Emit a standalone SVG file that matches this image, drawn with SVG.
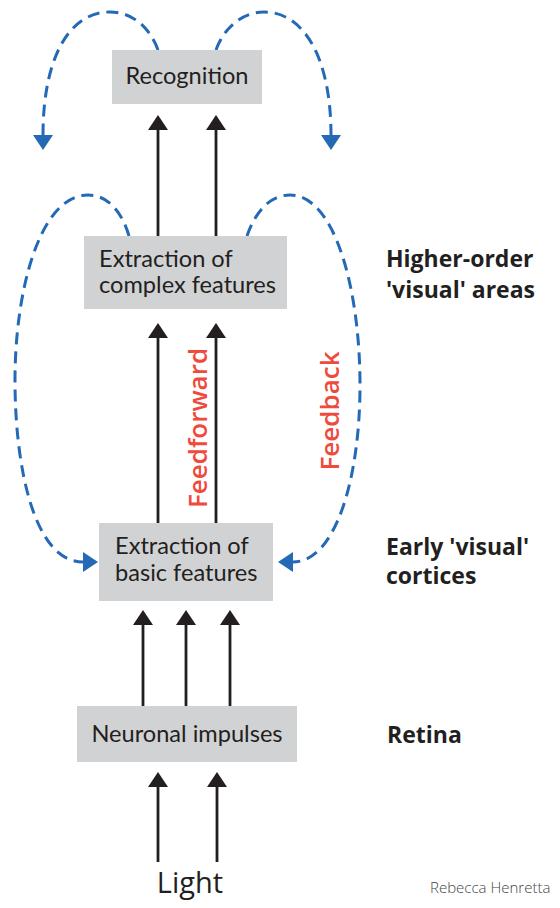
<svg xmlns="http://www.w3.org/2000/svg" width="560" height="908" viewBox="0 0 560 908">
<defs>
<style>
.box{fill:#d1d2d4}
.t{font-family:"Open Sans","Noto Sans",sans-serif;fill:#231f20}
.node{font-family:Lato,"Open Sans",sans-serif;font-size:23.6px}
.lbl{font-size:23px;font-weight:bold}
.red{font-family:"Open Sans","Noto Sans",sans-serif;font-size:26px;font-weight:600;fill:#ef4a3c}
.ff{fill:none;stroke:#231f20;stroke-width:2.8;marker-end:url(#ah)}
.fb{fill:none;stroke:#2369b6;stroke-width:3;stroke-dasharray:12 7;marker-end:url(#bh)}
</style>
<marker id="ah" markerUnits="userSpaceOnUse" markerWidth="15" markerHeight="20" refX="0" refY="10" orient="auto"><path d="M0,0 L15,10 L0,20 z" fill="#231f20"/></marker>
<marker id="bh" markerUnits="userSpaceOnUse" markerWidth="15" markerHeight="20" refX="0" refY="10" orient="auto"><path d="M0,0 L15,10 L0,20 z" fill="#2369b6"/></marker>
</defs>
<rect width="560" height="908" fill="#fff"/>
<g id="connectors">
<path class="ff" d="M158,236 V130"/>
<path class="ff" d="M216,236 V130"/>
<path class="ff" d="M158,523 V338"/>
<path class="ff" d="M216,523 V338"/>
<path class="ff" d="M143,706 V625"/>
<path class="ff" d="M186,706 V625"/>
<path class="ff" d="M230,706 V625"/>
<path class="ff" d="M158,862 V787"/>
<path class="ff" d="M217,862 V787"/>
<path class="fb" d="M158,50 C150,28 133,12 110,12 C68,12 43,60 43,135"/>
<path class="fb" d="M216,50 C224,28 242,12 264,12 C305,12 331,60 331,135"/>
<path class="fb" d="M129,236 C122,212 108,195 88,195 C40,195 15,290 15,380 C15,470 35,562 83,562"/>
<path class="fb" d="M247,236 C255,212 270,195 290,195 C335,195 360,290 360,385 C360,480 335,562 293,562"/>
<text class="red" transform="translate(207,428) rotate(-90)" text-anchor="middle">Feedforward</text>
<text class="red" transform="translate(339,411) rotate(-90)" text-anchor="middle">Feedback</text>
</g>
<g id="recognition">
<rect class="box" x="112" y="50" width="150" height="54"/>
<text class="t node" x="187" y="84" text-anchor="middle">Recognition</text>
</g>
<g id="complex">
<rect class="box" x="84" y="236" width="203" height="73"/>
<text class="t node" x="99" y="267">Extraction of</text>
<text class="t node" x="99" y="293">complex features</text>
</g>
<g id="basic">
<rect class="box" x="99" y="523" width="174" height="78"/>
<text class="t node" x="115" y="554">Extraction of</text>
<text class="t node" x="115" y="581">basic features</text>
</g>
<g id="neuronal">
<rect class="box" x="77" y="706" width="220" height="56"/>
<text class="t node" x="187" y="742" text-anchor="middle">Neuronal impulses</text>
</g>
<g id="light">
<text class="t" x="190" y="893" font-size="29" text-anchor="middle">Light</text>
</g>
<g id="labels">
<text class="t lbl" x="386" y="267">Higher-order</text>
<text class="t lbl" x="386" y="298">'visual' areas</text>
<text class="t lbl" x="386" y="555">Early 'visual'</text>
<text class="t lbl" x="386" y="584">cortices</text>
<text class="t lbl" x="387" y="743">Retina</text>
<text class="t" x="430" y="893" font-size="15" font-weight="300" style="fill:#444">Rebecca Henretta</text>
</g>
</svg>
